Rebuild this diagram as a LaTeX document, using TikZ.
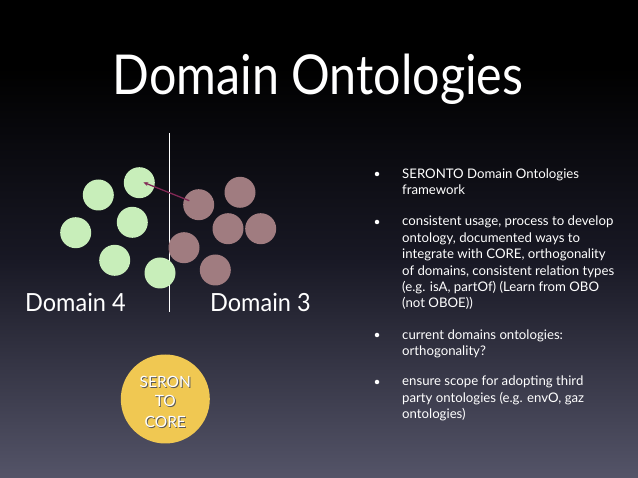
\documentclass[tikz,border=0pt]{standalone}
\usepackage{fontspec}
\setmainfont{Lato}
\newfontfamily\titlefont[FakeStretch=0.88]{Lato}
\newfontfamily\labelfont[FakeStretch=0.94]{Lato}
\usetikzlibrary{arrows.meta}
\definecolor{ggreen}{RGB}{200,238,186}
\definecolor{gbrown}{RGB}{160,124,128}
\definecolor{ggold}{RGB}{240,200,82}
\definecolor{garrow}{RGB}{130,40,85}
\definecolor{bgmid}{RGB}{24,24,36}
\definecolor{bgbot}{RGB}{84,84,104}
\pgfdeclareverticalshading{slidebg}{100bp}{color(0bp)=(bgbot); color(25bp)=(bgbot); color(48bp)=(bgmid); color(68bp)=(black); color(75bp)=(black); color(100bp)=(black)}
\tikzset{
  gdot/.style={circle, fill=ggreen, minimum size=31pt, inner sep=0pt},
  bdot/.style={circle, fill=gbrown, minimum size=31pt, inner sep=0pt},
  bodytext/.style={anchor=base west, text=white, inner sep=0pt, font=\fontsize{13.2}{16}\selectfont},
  domlabel/.style={anchor=base west, text=white, inner sep=0pt, font=\labelfont\fontsize{25}{30}\selectfont},
  bulletdot/.style={circle, fill=white, minimum size=4.5pt, inner sep=0pt},
  coretext/.style={anchor=base, text=white, inner sep=0pt, font=\fontsize{15.5}{18}\selectfont}
}
\begin{document}
\begin{tikzpicture}[x=1pt,y=-1pt]
\useasboundingbox (0,0) rectangle (638,478);
\shade[shading=slidebg] (0,0) rectangle (638,478);
% title
\node[anchor=base, text=white, inner sep=0pt, font=\titlefont\fontsize{55}{60}\selectfont] (title) at (318,95) {Domain Ontologies};
% divider
\coordinate (ltop) at (169.5,133);
\coordinate (lbot) at (169.5,312);
\draw[white, line width=1.3pt] (ltop) -- (lbot);
% green circles
\node[gdot] (g1) at (139.3,182.7) {};
\node[gdot] (g2) at (98.3,195) {};
\node[gdot] (g3) at (132.3,222.3) {};
\node[gdot] (g4) at (75.7,232.7) {};
\node[gdot] (g5) at (114.7,260.3) {};
\node[gdot] (g6) at (160,273) {};
% brown circles
\node[bdot] (b1) at (198.7,204.7) {};
\node[bdot] (b2) at (240,192.3) {};
\node[bdot] (b3) at (228,228.7) {};
\node[bdot] (b4) at (260.7,228.7) {};
\node[bdot] (b5) at (184,247.7) {};
\node[bdot] (b6) at (215.3,270) {};
% arrow
\coordinate (atail) at ([shift={(-9.4,-4)}]b1.center);
\coordinate (ahead) at ([shift={(4,-0.4)}]g1.center);
\draw[garrow, line width=1.3pt, -{Stealth[length=5pt,width=4pt]}] (atail) -- (ahead);
% labels
\node[domlabel] (d4) at (25,311.7) {Domain 4};
\node[domlabel] (d3) at (210,311.7) {Domain 3};
% core circle
\node[circle, fill=ggold, minimum size=89pt, inner sep=0pt] (core) at (165.3,399) {};
\foreach \t/\yy [count=\i] in {SERON/387.5, TO/406.5, CORE/427.5}{
  \node[coretext, text=black!65] (cs\i) at (166.2,\yy+0.9) {\t};
  \node[coretext] (c\i) at (165.3,\yy) {\t};
}
% bullets
\foreach \yy [count=\i] in {174, 222, 335, 382}{
  \node[bulletdot] (bd\i) at (377,\yy) {};
}
\node[bodytext] (l1) at (402,178.5) {SERONTO Domain Ontologies};
\node[bodytext] (l2) at (402,195) {framework};
\node[bodytext] (l3) at (402,226) {consistent usage, process to develop};
\node[bodytext] (l4) at (402,242.5) {ontology, documented ways to};
\node[bodytext] (l5) at (402,259) {integrate with CORE, orthogonality};
\node[bodytext] (l6) at (402,275.5) {of domains, consistent relation types};
\node[bodytext] (l7) at (402,291.5) {(e.g. isA, partOf) (Learn from OBO};
\node[bodytext] (l8) at (402,308) {(not OBOE))};
\node[bodytext] (l9) at (402,339.5) {current domains ontologies:};
\node[bodytext] (l10) at (402,355.5) {orthogonality?};
\node[bodytext] (l11) at (402,386) {ensure scope for adopting third};
\node[bodytext] (l12) at (402,402.5) {party ontologies (e.g. envO, gaz};
\node[bodytext] (l13) at (402,418.5) {ontologies)};
\end{tikzpicture}
\end{document}
